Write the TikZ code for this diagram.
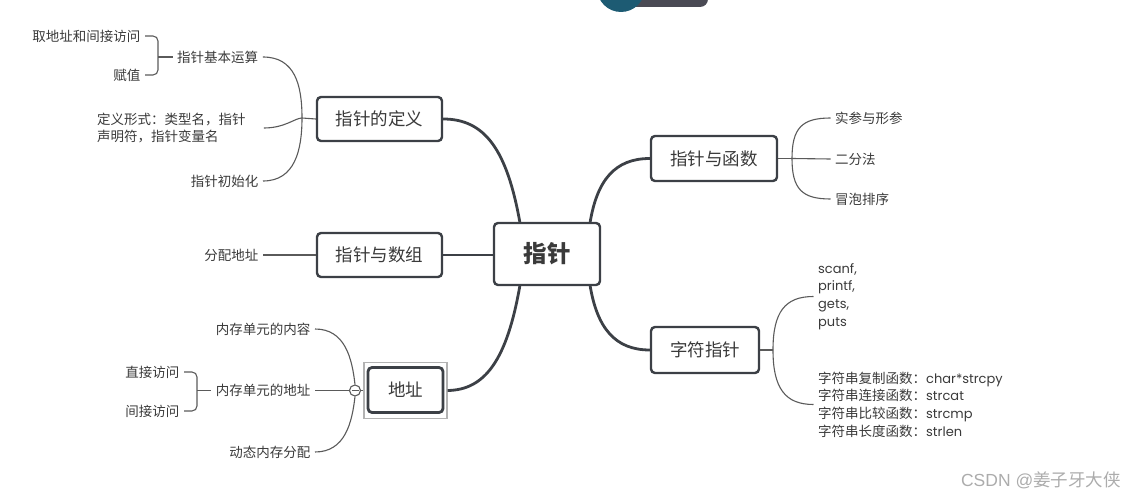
\documentclass[tikz,border=0pt]{standalone}
\usepackage{fontspec}
\setmainfont{Noto Sans CJK SC}
\newfontfamily\latf{Poppins}
\newfontfamily\wmf{Liberation Sans}
\definecolor{boxc}{HTML}{3C4046}
\definecolor{linec}{HTML}{5A5A5A}
\definecolor{txt}{HTML}{3A3A3A}
\definecolor{tealc}{HTML}{1D5B73}
\definecolor{topbar}{HTML}{4A4A54}
\tikzset{
  mbox/.style={draw=boxc, line width=2.4pt, rounded corners=4pt, fill=white, text=txt,
    font=\fontsize{17.5}{20}\selectfont, inner sep=0pt},
  leaf/.style={text=txt, font=\fontsize{13.5}{17.6}\selectfont, inner xsep=4.5pt, inner ysep=0pt},
  thickc/.style={draw=boxc, line width=2.8pt},
  thinc/.style={draw=linec, line width=1.1pt},
  brk/.style={draw=linec, line width=1.1pt, rounded corners=5pt},
}
\begin{document}
\begin{tikzpicture}[x=1pt,y=-1pt]
\useasboundingbox (0,0) rectangle (1136,500);
\clip (0,0) rectangle (1136,500);
% top partial shape
\fill[topbar, rounded corners=8pt] (612,-25) rectangle (708,7);
\fill[tealc] (621,-12) circle (24);
\draw[cyan!60!teal, line width=0.8pt] (621,-12) ++(-20:24) arc (-20:-80:24);

% main boxes
\node[mbox, minimum width=106pt, minimum height=62pt, font=\fontsize{23.5}{26}\selectfont\bfseries] (root) at (547,254) {指针};
\node[mbox, minimum width=125pt, minimum height=44pt] (def) at (379.5,119) {指针的定义};
\node[mbox, minimum width=125pt, minimum height=44pt] (arr) at (379.5,255) {指针与数组};
\node[draw=gray!60, line width=1.3pt, minimum width=83pt, minimum height=56pt] (addrout) at (405.5,390.5) {};
\node[mbox, line width=2.8pt, minimum width=75pt, minimum height=45pt] (addr) at (405.5,390) {地址};
\node[mbox, minimum width=126pt, minimum height=45pt] (func) at (714,158.5) {指针与函数};
\node[mbox, minimum width=108pt, minimum height=46pt] (chr) at (705,350) {字符指针};

% root connectors
\coordinate (rtl) at (520,223);
\coordinate (rtr) at (590,223);
\coordinate (rbl) at (520,285);
\coordinate (rbr) at (590,285);
\draw[thickc] (rtl) .. controls (507,150) and (485,119) .. (def.east);
\draw[thickc] (arr.east) -- (root.west |- arr.east);
\draw[thickc] (rbl) .. controls (507,360) and (485,390) .. (addrout.east);
\draw[thickc] (rtr) .. controls (597,180) and (615,158.5) .. (func.west);
\draw[thickc] (rbr) .. controls (597,328) and (615,350) .. (chr.west);

% definition branch
\node[leaf, anchor=west] (b1) at (172.5,57) {指针基本运算};
\node[leaf, anchor=west, text width=162pt, align=left] (d2) at (92.5,128) {定义形式：类型名，指针\\声明符，指针变量名};
\node[leaf, anchor=east] (d3) at (263,181) {指针初始化};
\node[leaf, anchor=east] (q1) at (145,36) {取地址和间接访问};
\node[leaf, anchor=east] (q2) at (145,75) {赋值};
\coordinate (jd) at (302,118);
\draw[thinc] (def.west) -- (jd);
\draw[thinc] (b1.east) .. controls (295,57) and (302,85) .. (jd);
\draw[thinc] (d2.east) .. controls (285,128) and (295,118) .. (jd);
\draw[thinc] (d3.east) .. controls (295,181) and (302,150) .. (jd);
\coordinate (jb) at (158,57);
\draw[brk] (q1.east) -| (jb) |- (q2.east);
\draw[thinc] (jb) -- (b1.west);

% array branch
\node[leaf, anchor=east] (a1) at (263,255) {分配地址};
\draw[thinc] (a1.east) -- (arr.west);

% address branch
\node[draw=linec, line width=1.1pt, fill=white, circle, minimum size=11pt, inner sep=0pt] (col) at (355,390.5) {};
\draw[linec, line width=1.1pt] (351.5,390.5) -- (358.5,390.5);
\draw[thinc] (col.east) -- (addrout.west);
\node[leaf, anchor=east] (m1) at (315,329) {内存单元的内容};
\node[leaf, anchor=east] (m2) at (315,390.5) {内存单元的地址};
\node[leaf, anchor=east] (m3) at (315,452) {动态内存分配};
\draw[thinc] (m1.east) .. controls (345,329) and (352,358) .. (col.north);
\draw[thinc] (m2.east) -- (col.west);
\draw[thinc] (m3.east) .. controls (345,452) and (352,423) .. (col.south);
\node[leaf, anchor=east] (e1) at (184,372) {直接访问};
\node[leaf, anchor=east] (e2) at (184,411) {间接访问};
\coordinate (je) at (197,390.5);
\draw[brk] (e1.east) -| (je) |- (e2.east);
\draw[thinc] (je) -- (m2.west);

% function branch
\coordinate (jf) at (792,158.5);
\draw[thinc] (func.east) -- (jf);
\node[leaf, anchor=west] (f1) at (830.5,118) {实参与形参};
\node[leaf, anchor=west] (f2) at (830.5,159) {二分法};
\node[leaf, anchor=west] (f3) at (830.5,199) {冒泡排序};
\draw[thinc] (jf) .. controls (792,128) and (802,118) .. (f1.west);
\draw[thinc] (jf) -- (f2.west);
\draw[thinc] (jf) .. controls (792,189) and (802,199) .. (f3.west);

% char branch
\coordinate (jc) at (773,350);
\draw[thinc] (chr.east) -- (jc);
\node[leaf, anchor=west, align=left, font=\fontsize{13}{17.7}\selectfont\latf] (s1) at (813.5,296.5) {scanf,\\printf,\\gets,\\puts};
\node[leaf, anchor=west, align=left, font=\fontsize{13.5}{17.7}\selectfont] (s2) at (813.5,404.5)
  {字符串复制函数：{\latf\fontsize{13}{17.7}\selectfont char*strcpy}\\字符串连接函数：{\latf\fontsize{13}{17.7}\selectfont strcat}\\字符串比较函数：{\latf\fontsize{13}{17.7}\selectfont strcmp}\\字符串长度函数：{\latf\fontsize{13}{17.7}\selectfont strlen}};
\draw[thinc] (jc) .. controls (773,312) and (785,296.5) .. (s1.west);
\draw[thinc] (jc) .. controls (773,388) and (785,404.5) .. (s2.west);

% watermark
\node[anchor=east, text=gray!65, font=\fontsize{17.5}{20}\selectfont, inner sep=0pt] (wm) at (1121,480) {{\wmf CSDN @}姜子牙大侠};
\end{tikzpicture}
\end{document}
